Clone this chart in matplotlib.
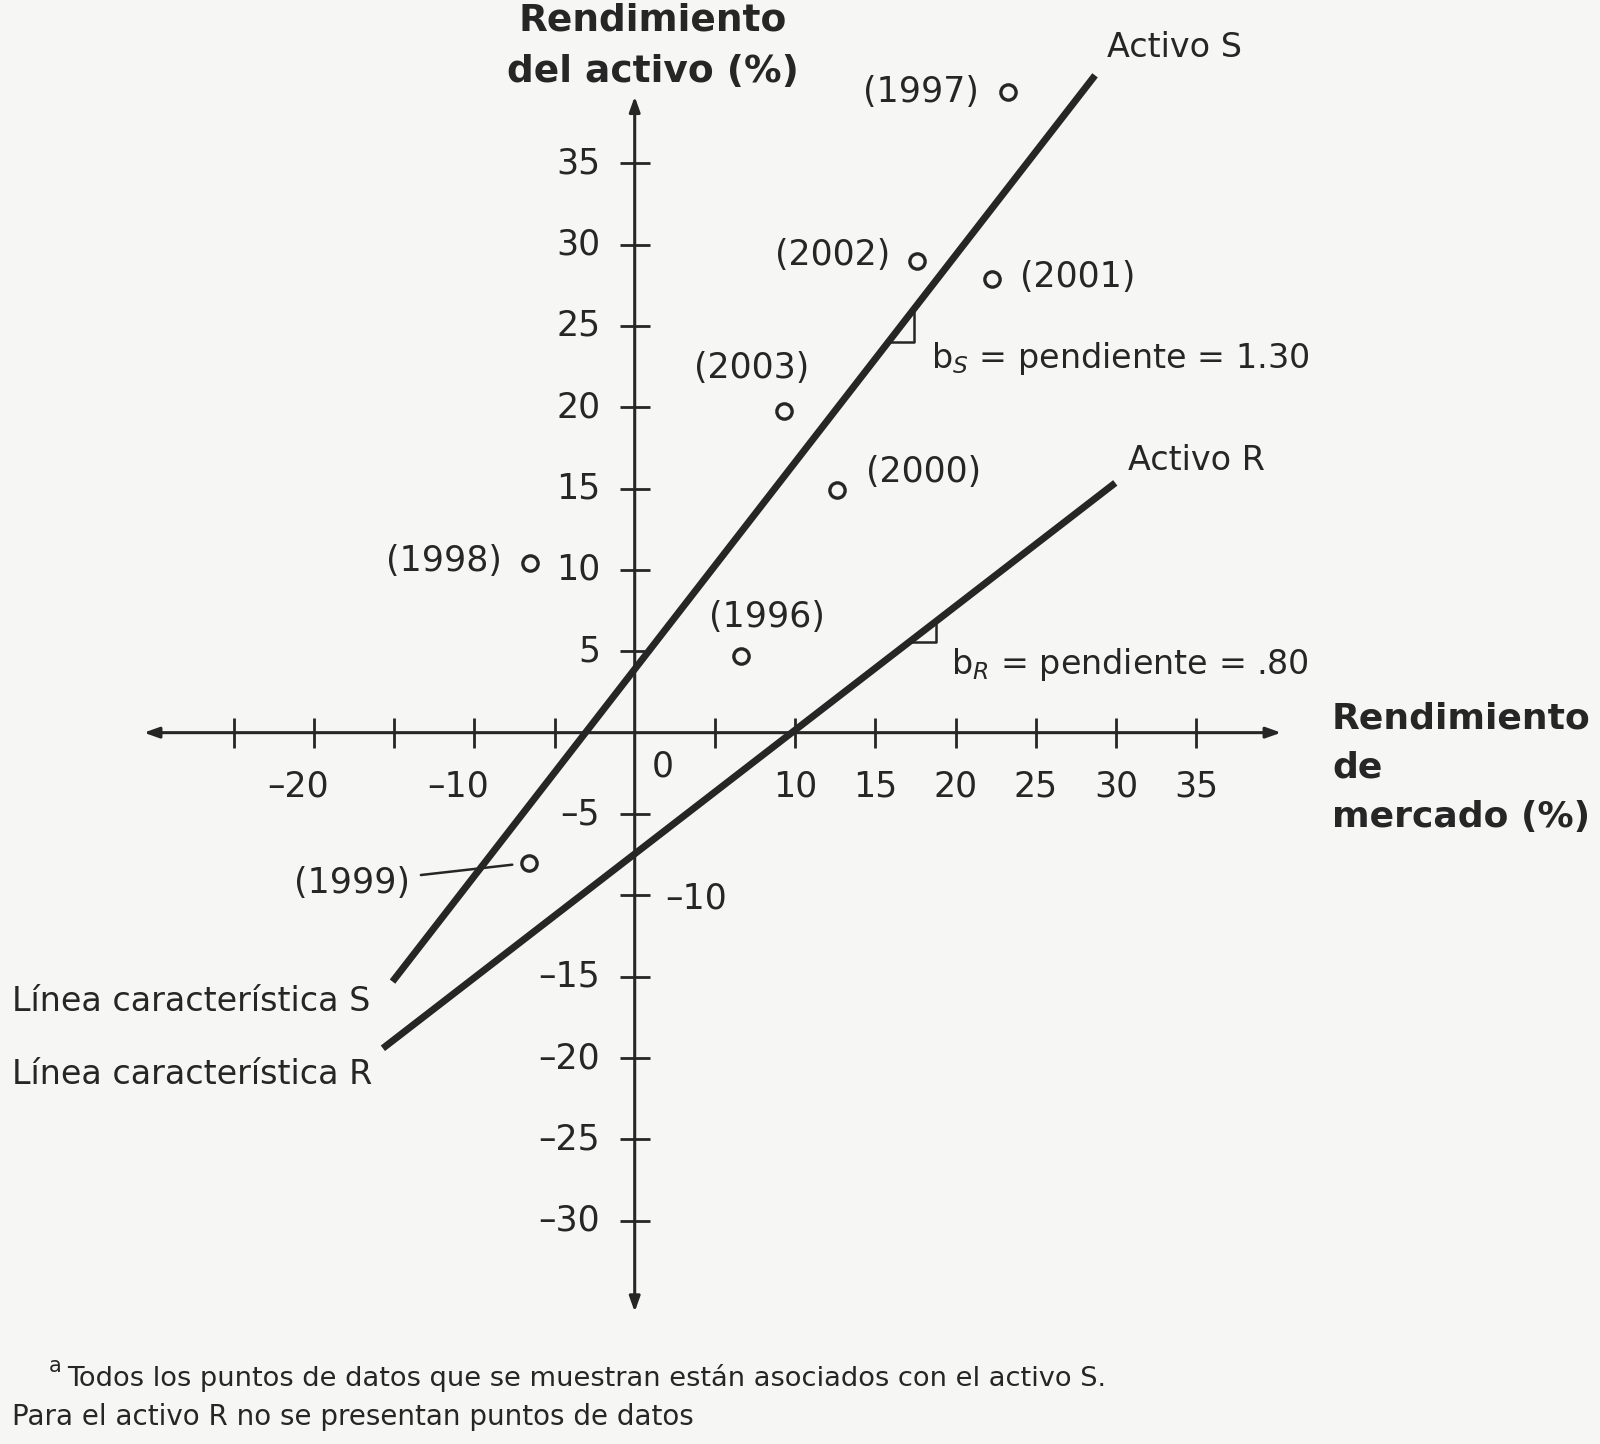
import numpy as np
import matplotlib
matplotlib.use('Agg')
import matplotlib.pyplot as plt

# Datos: rendimientos (%) del activo S frente al mercado, por año
anios = ['1996', '1997', '1998', '1999', '2000', '2001', '2002', '2003']
rend_mercado = [6.6, 23.3, -6.5, -6.6, 12.6, 22.3, 17.6, 9.3]
rend_activo = [4.7, 39.4, 10.4, -8.0, 14.9, 27.9, 29.0, 19.8]

# Líneas características (extremos)
linea_s_x = [-15.1, 28.7]
linea_s_y = [-15.3, 40.4]
linea_r_x = [-15.7, 29.96]
linea_r_y = [-19.4, 15.35]

# Marcas de los ejes
x_ticks = [-25, -20, -15, -10, -5, 5, 10, 15, 20, 25, 30, 35]
x_labels = [-20, -10, 10, 15, 20, 25, 30, 35]
y_ticks = [35, 30, 25, 20, 15, 10, 5, -5, -10, -15, -20, -25, -30]
y_labels_izq = [35, 30, 25, 20, 15, 10, 5, -5, -15, -20, -25, -30]

ink = '#262626'
fondo = '#f6f6f4'

fig = plt.figure(figsize=(16, 14.44), dpi=100, facecolor=fondo)
ax = fig.add_axes([0, 0, 1, 1])
ax.set_facecolor(fondo)
ax.set_xlim(-39.57, 60.18)
ax.set_ylim(-43.72, 45.03)

# Ejes cruzados en el origen con flechas
for s in ax.spines.values():
    s.set_visible(False)
ax.spines['left'].set_position(('data', 0))
ax.spines['bottom'].set_position(('data', 0))
ax.set_xticks(x_ticks)
ax.set_yticks(y_ticks)
ax.tick_params(direction='inout', length=21, width=2, color=ink,
               labelbottom=False, labelleft=False)
flecha = dict(arrowstyle='<|-|>,head_length=0.9,head_width=0.32', lw=2.2,
              color=ink, shrinkA=0, shrinkB=0)
ax.annotate('', xy=(40.3, 0), xytext=(-30.6, 0), arrowprops=flecha)
ax.annotate('', xy=(0, 39.1), xytext=(0, -35.6), arrowprops=flecha)

# Etiquetas de las marcas
for v in x_labels:
    xpos = v - 1.0 if v < 0 else v
    ax.text(xpos, -3.28, str(v).replace('-', '\u2013'), ha='center', va='center',
            fontsize=25, color=ink)
ax.text(1.77, -2.1, '0', ha='center', va='center', fontsize=25, color=ink)
for v in y_labels_izq:
    ax.text(-2.15, v, str(v).replace('-', '\u2013'), ha='right', va='center',
            fontsize=25, color=ink)
ax.text(1.9, -10.2, '\u201310', ha='left', va='center', fontsize=25, color=ink)

# Líneas características
ax.plot(linea_s_x, linea_s_y, color=ink, lw=5, solid_capstyle='butt')
ax.plot(linea_r_x, linea_r_y, color=ink, lw=5, solid_capstyle='butt')

# Triángulos de pendiente
def triangulo(lx, ly, cx, cy):
    m = (ly[1] - ly[0]) / (lx[1] - lx[0])
    top = ly[0] + m * (cx - lx[0])
    left = lx[0] + (cy - ly[0]) / m
    ax.plot([left, cx, cx], [cy, cy, top], color=ink, lw=1.8)

triangulo(linea_s_x, linea_s_y, 17.4, 24.0)
triangulo(linea_r_x, linea_r_y, 18.8, 5.6)

# Puntos de datos
ax.plot(rend_mercado, rend_activo, 'o', ms=11, mfc='none', mec=ink, mew=2.4)

# Posición de cada etiqueta de año (px): desplazamiento y alineación
desplaz = {'1996': (26, 39, 'center'), '1997': (-30, 0, 'right'),
           '1998': (-29, 2, 'right'), '1999': (-119, -20, 'right'),
           '2000': (29, 18, 'left'), '2001': (28, 2, 'left'),
           '2002': (-27, 6, 'right'), '2003': (-32, 43, 'center')}
for a, xm, ya in zip(anios, rend_mercado, rend_activo):
    dx, dy, ha = desplaz[a]
    props = None
    if a == '1999':
        props = dict(arrowstyle='-', lw=1.8, color=ink, shrinkA=6, shrinkB=12)
    ax.annotate(f'({a})', xy=(xm, ya), xytext=(dx * 0.72, dy * 0.72),
                textcoords='offset points', ha=ha, va='center',
                fontsize=25, color=ink, arrowprops=props)

# Textos
ax.text(1.14, 42.2, 'Rendimiento\ndel activo (%)', ha='center', va='center',
        fontsize=27, fontweight='bold', color=ink, linespacing=1.55)
ax.text(43.47, -2.15, 'Rendimiento\nde\nmercado (%)', ha='left', va='center',
        fontsize=26, fontweight='bold', color=ink, linespacing=1.57)
ax.text(29.45, 42.08, 'Activo S', ha='left', va='center', fontsize=24, color=ink)
ax.text(30.75, 16.7, 'Activo R', ha='left', va='center', fontsize=24, color=ink)
ax.text(18.47, 22.97, r'b$_S$ = pendiente = 1.30', ha='left', va='center',
        fontsize=24, color=ink)
ax.text(19.72, 4.16, r'b$_R$ = pendiente = .80', ha='left', va='center',
        fontsize=24, color=ink)
ax.text(-38.82, -16.55, 'Línea característica S', ha='left', va='center',
        fontsize=24, color=ink)
ax.text(-38.82, -21.04, 'Línea característica R', ha='left', va='center',
        fontsize=24, color=ink)

# Nota al pie
ax.text(-36.5, -38.9, 'a', ha='left', va='center', fontsize=15, color=ink)
ax.text(-35.4, -39.66, 'Todos los puntos de datos que se muestran están asociados con el activo S.',
        ha='left', va='center', fontsize=19.6, color=ink)
ax.text(-38.82, -42.05, 'Para el activo R no se presentan puntos de datos',
        ha='left', va='center', fontsize=20, color=ink)

fig.savefig('out.png', dpi=100, facecolor=fondo)
